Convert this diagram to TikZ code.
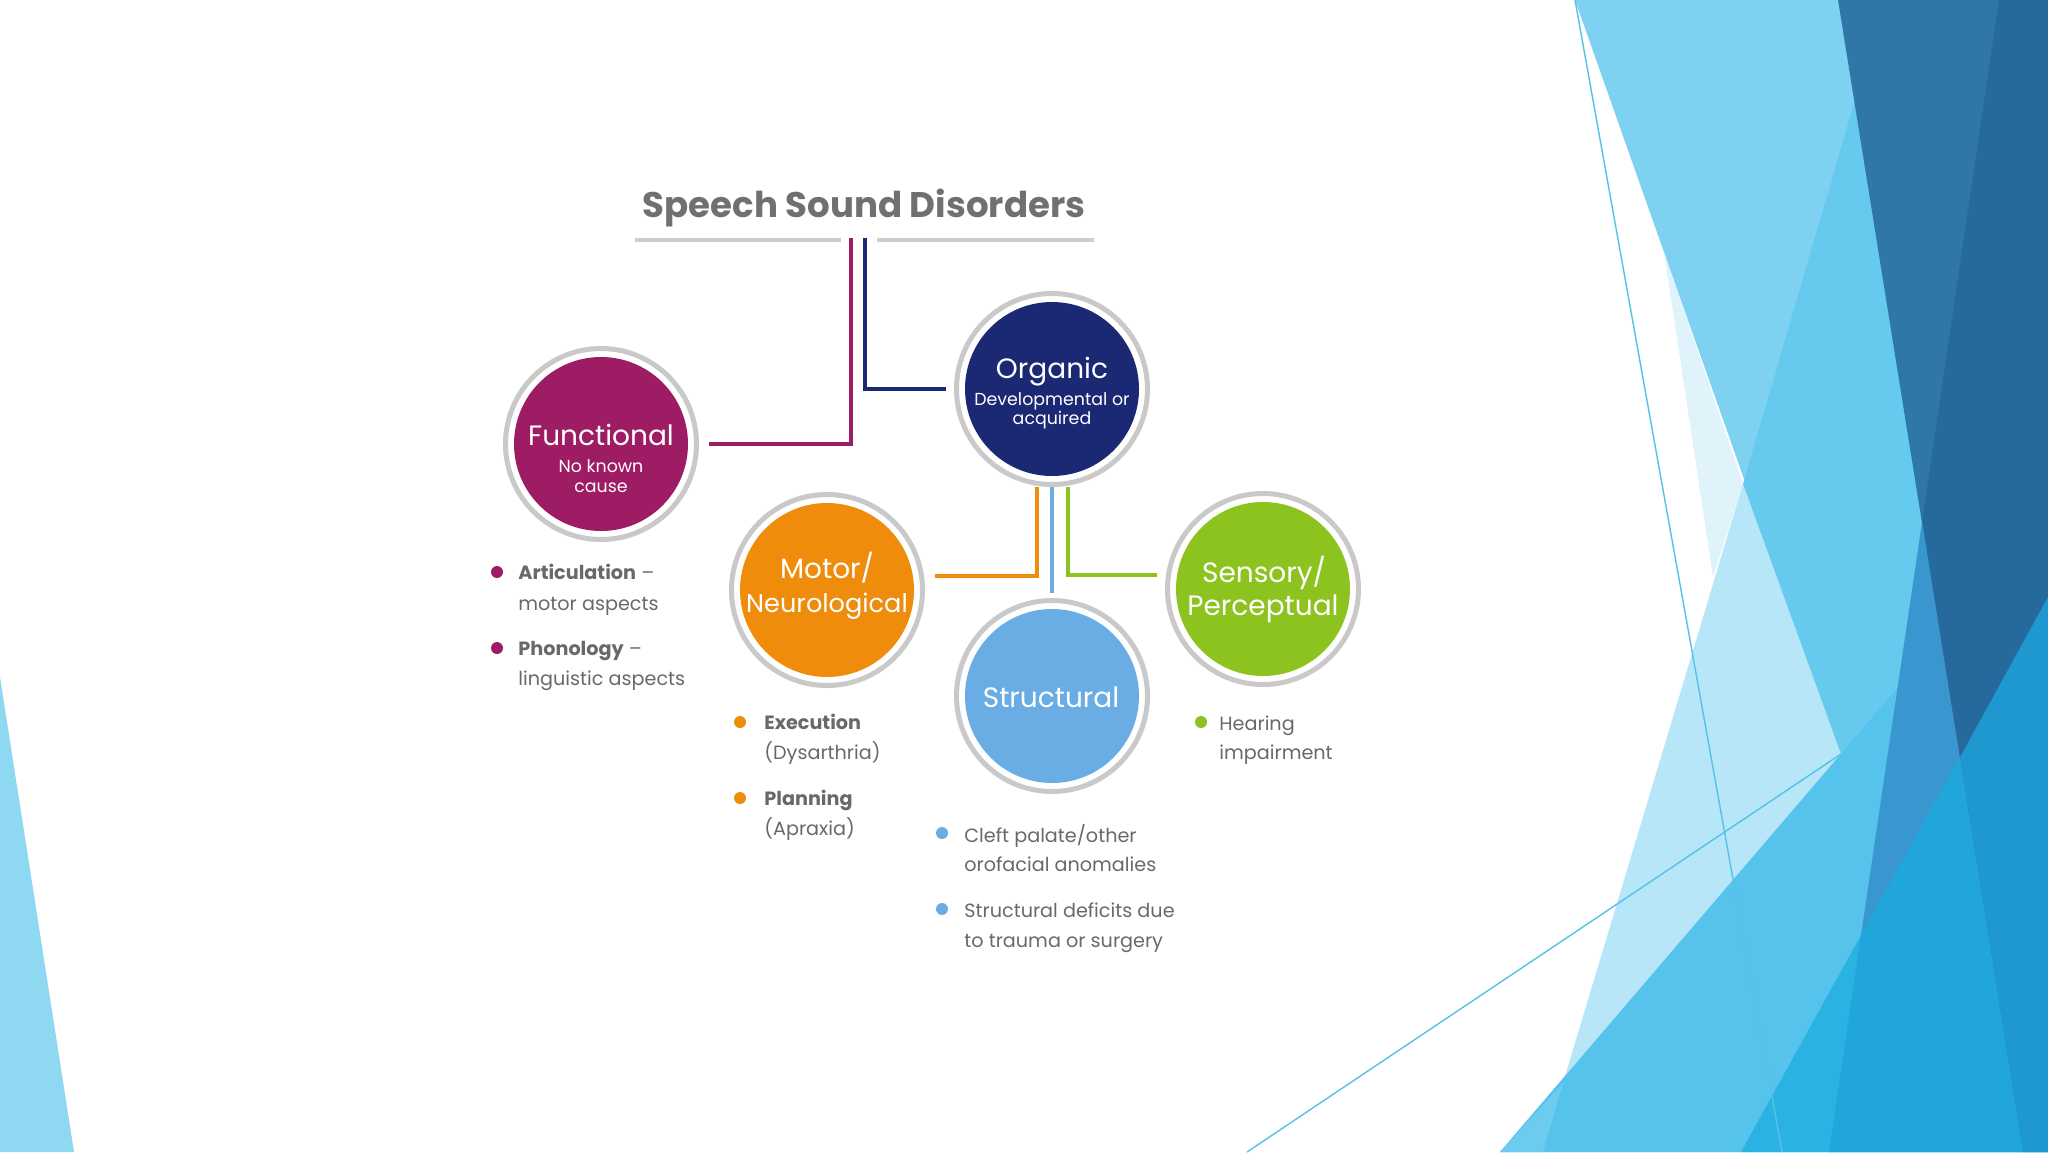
\documentclass[tikz,border=0pt]{standalone}
\usepackage{fontspec}
\setmainfont{Poppins}
\usepackage{xcolor}
\usetikzlibrary{calc,positioning}
\definecolor{fncmagenta}{HTML}{9E1C63}
\definecolor{orgnavy}{HTML}{1B2873}
\definecolor{motorange}{HTML}{EF8C0C}
\definecolor{strblue}{HTML}{6AADE4}
\definecolor{sengreen}{HTML}{8DC31E}
\definecolor{ringgray}{HTML}{C9C9C9}
\definecolor{bargray}{HTML}{CDCDCD}
\definecolor{txtgray}{HTML}{696969}
\definecolor{titlegray}{HTML}{707070}
\definecolor{facetsky}{HTML}{7FD1F1}
\definecolor{facetpale}{HTML}{B6E6F8}
\definecolor{facetmist}{HTML}{E0F3FB}
\definecolor{facetmid}{HTML}{66C9EE}
\definecolor{facetdeep}{HTML}{55C3EC}
\definecolor{facetsoft}{HTML}{6CCBEF}
\definecolor{facetsteel}{HTML}{2E77A7}
\definecolor{facetnight}{HTML}{25699D}
\definecolor{facetcobalt}{HTML}{3A96CF}
\definecolor{facetazure}{HTML}{2AB2E3}
\definecolor{facetcyan}{HTML}{21A6DB}
\definecolor{facetsea}{HTML}{1E98CF}
\definecolor{facetline}{HTML}{55C1EA}
\definecolor{facetleft}{HTML}{8FD8F2}
\newcommand{\circfont}{\fontsize{14pt}{16pt}\selectfont}
\newcommand{\subfont}{\fontsize{8.7pt}{10pt}\selectfont}
\newcommand{\itemfont}{\fontsize{9.6pt}{12pt}\selectfont}
\tikzset{
  disc/.style={circle,draw=ringgray,line width=2.5pt,minimum size=95.5pt,inner sep=0pt,outer sep=0pt,
    path picture={\fill[#1] (path picture bounding box.center) circle (43.5pt);}},
  disctxt/.style={anchor=base,inner sep=0pt,text=white},
  link/.style={line width=1.8pt,draw=#1},
  dot/.style={circle,fill=#1,minimum size=6pt,inner sep=0pt},
  itemtxt/.style={anchor=base west,inner sep=0pt,text=txtgray,font=\itemfont},
}

\begin{document}
\begin{tikzpicture}[x=0.5pt,y=-0.5pt]
  \useasboundingbox (0,0) rectangle (2048,1152);
  \fill[white] (0,0) rectangle (2048,1152);
  \fill[facetleft] (0,677) -- (74,1152) -- (0,1152) -- cycle;
  \fill[facetsky] (1575,0) -- (2048,0) -- (2048,1152) -- (1500,1152) -- (1841,754) -- cycle;
  \fill[facetmist] (1664,252) -- (1743,484) -- (1713,577) -- cycle;
  \fill[facetpale] (1743,484) -- (1841,754) -- (1563,1083) -- cycle;
  \fill[facetmid] (1855,100) -- (1743,484) -- (1841,754) -- (1941,637) -- cycle;
  \fill[facetdeep] (1500,1152) -- (1941,637) -- (2023,1152) -- cycle;
  \fill[facetsoft] (1563,1083) -- (1543,1152) -- (1500,1152) -- cycle;
  \fill[facetsteel] (1838,0) -- (2048,0) -- (2048,1152) -- (2023,1152) -- cycle;
  \fill[facetnight] (1999,0) -- (2048,0) -- (2048,1152) -- (2023,1152) -- (1922,522) -- cycle;
  \fill[facetcobalt] (1922,522) -- (2023,1152) -- (1829,1152) -- cycle;
  \fill[facetazure] (1861,935) -- (1829,1152) -- (1741,1152) -- cycle;
  \fill[facetcyan] (1960,757) -- (2023,1152) -- (1829,1152) -- (1861,935) -- cycle;
  \fill[facetsea] (1960,757) -- (2048,597) -- (2048,1152) -- (2023,1152) -- cycle;
  \draw[facetline,line width=0.7pt] (1575,0) -- (1782,1152);
  \draw[facetline,line width=0.7pt] (1247,1152) -- (1841,754);

  \node[font=\fontsize{17.8pt}{20pt}\selectfont\bfseries,text=titlegray,anchor=base,inner sep=0pt] (title) at (864,217) {Speech Sound Disorders};
  \draw[bargray,line width=2pt] (635,240) -- (841,240) (877,240) -- (1094,240);
  \coordinate (barM) at (851,238);
  \coordinate (barN) at (865,238);

  \node[disc=fncmagenta] (functional) at (601,444) {};
  \node[disc=orgnavy] (organic) at (1052,389) {};
  \node[disc=motorange] (motor) at (827,590) {};
  \node[disc=strblue] (structural) at (1052,696) {};
  \node[disc=sengreen] (sensory) at (1263,589) {};

  \draw[link=fncmagenta,shorten >=6.25pt] (barM) |- (functional);
  \draw[link=orgnavy,shorten >=5.25pt] (barN) |- (organic);
  \draw[link=motorange,shorten >=6pt,shorten <=1pt] ([xshift=-7.5pt]organic.south) |- ([yshift=7pt]motor.east);
  \draw[link=strblue,shorten >=4pt,shorten <=1pt] (organic) -- (structural);
  \draw[link=sengreen,shorten >=5.25pt,shorten <=1pt] ([xshift=8pt]organic.south) |- ([yshift=7pt]sensory.west);

  \node[disctxt,font=\circfont] (fncT) at (601,445) {Functional};
  \node[disctxt,font=\subfont] (fncS1) at (601,472) {No known};
  \node[disctxt,font=\subfont] (fncS2) at (601,492) {cause};
  \node[disctxt,font=\circfont] (orgT) at (1052,378) {Organic};
  \node[disctxt,font=\subfont] (orgS1) at (1052,405) {Developmental or};
  \node[disctxt,font=\subfont] (orgS2) at (1052,424) {acquired};
  \node[disctxt,font=\circfont] (motT1) at (827,578) {Motor/};
  \node[disctxt,font=\fontsize{12.8pt}{15pt}\selectfont] (motT2) at (827,612) {Neurological};
  \node[disctxt,font=\circfont] (strT) at (1051,707) {Structural};
  \node[disctxt,font=\circfont] (senT1) at (1264,582) {Sensory/};
  \node[disctxt,font=\circfont] (senT2) at (1263,615) {Perceptual};

  \foreach \y in {572,648} \node[dot=fncmagenta] (fncB\y) at (497,\y) {};
  \node[itemtxt] (fncI1) at (518,579) {\textbf{Articulation} –};
  \node[itemtxt] (fncI2) at (518,610) {motor aspects};
  \node[itemtxt] (fncI3) at (518,655) {\textbf{Phonology} –};
  \node[itemtxt] (fncI4) at (518,685) {linguistic aspects};

  \foreach \y in {722,798} \node[dot=motorange] (motB\y) at (740,\y) {};
  \node[itemtxt] (motI1) at (764,729) {\textbf{Execution}};
  \node[itemtxt] (motI2) at (764,759) {(Dysarthria)};
  \node[itemtxt] (motI3) at (764,805) {\textbf{Planning}};
  \node[itemtxt] (motI4) at (764,835) {(Apraxia)};

  \foreach \y in {833,909} \node[dot=strblue] (strB\y) at (942,\y) {};
  \node[itemtxt] (strI1) at (964,842) {Cleft palate/other};
  \node[itemtxt] (strI2) at (964,871) {orofacial anomalies};
  \node[itemtxt] (strI3) at (964,917) {Structural deficits due};
  \node[itemtxt] (strI4) at (964,947) {to trauma or surgery};

  \node[dot=sengreen] (senB) at (1201,722) {};
  \node[itemtxt] (senI1) at (1219,730) {Hearing};
  \node[itemtxt] (senI2) at (1219,759) {impairment};
\end{tikzpicture}
\end{document}
